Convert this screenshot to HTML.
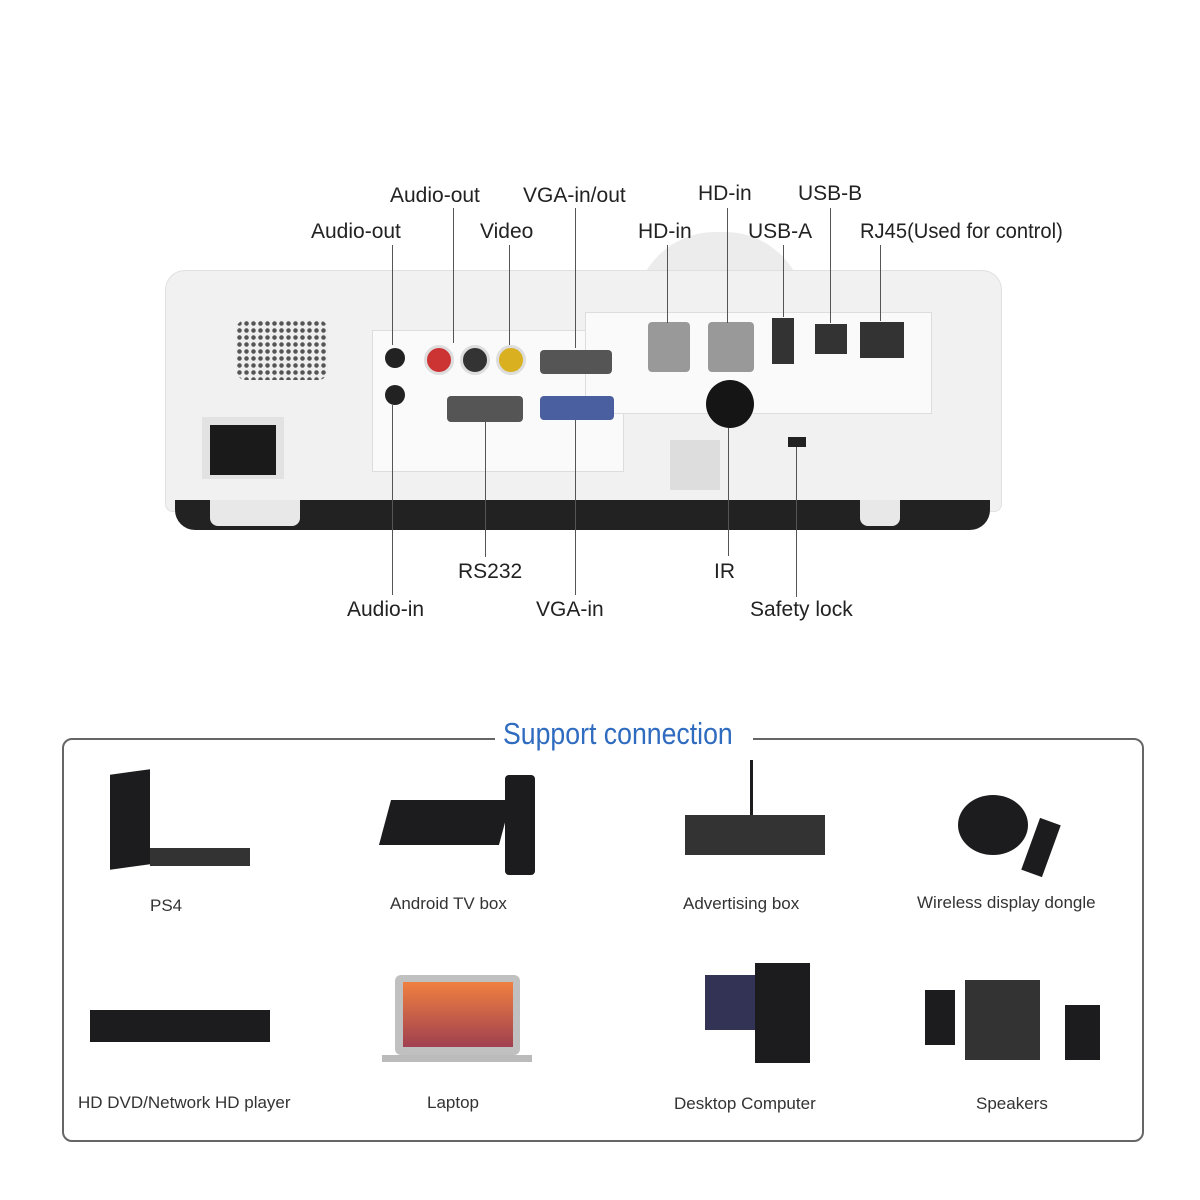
<!DOCTYPE html>
<html><head><meta charset="utf-8"><style>
body{margin:0;width:1200px;height:1200px;background:#fff;position:relative;overflow:hidden;font-family:"Liberation Sans",sans-serif}
.a{position:absolute}
.l{position:absolute;font-size:21px;color:#222;white-space:nowrap}
.s{position:absolute;font-size:17px;color:#333;white-space:nowrap}
.ln{position:absolute;width:1px;background:#555}
.d{position:absolute;background:#1c1c1e}
</style></head><body>
<!-- projector -->
<div class="a" style="left:635px;top:232px;width:170px;height:80px;border-radius:85px 85px 0 0;background:#ececec"></div>
<div class="a" style="left:165px;top:270px;width:835px;height:240px;background:#f1f1f1;border-radius:20px 20px 8px 8px;border:1px solid #e0e0e0"></div>
<div class="a" style="left:175px;top:500px;width:815px;height:30px;background:#222;border-radius:0 0 20px 20px"></div>
<div class="a" style="left:210px;top:500px;width:90px;height:26px;background:#e8e8e8;border-radius:0 0 8px 8px"></div>
<div class="a" style="left:860px;top:500px;width:40px;height:26px;background:#e8e8e8;border-radius:0 0 8px 8px"></div>
<div class="a" style="left:236px;top:320px;width:92px;height:60px;border-radius:10px;background:radial-gradient(circle,#555 2px,#eee 2.5px) 0 0/7px 7px"></div>
<div class="a" style="left:202px;top:417px;width:82px;height:62px;background:#e2e2e2"></div>
<div class="a" style="left:210px;top:425px;width:66px;height:50px;background:#1a1a1a"></div>
<div class="a" style="left:372px;top:330px;width:250px;height:140px;background:#fafafa;border:1px solid #ddd"></div>
<div class="a" style="left:585px;top:312px;width:345px;height:100px;background:#fafafa;border:1px solid #ddd"></div>
<div class="a" style="left:385px;top:348px;width:20px;height:20px;border-radius:50%;background:#222"></div>
<div class="a" style="left:385px;top:385px;width:20px;height:20px;border-radius:50%;background:#222"></div>
<div class="a" style="left:424px;top:345px;width:24px;height:24px;border-radius:50%;background:#c33;border:3px solid #ddd"></div>
<div class="a" style="left:460px;top:345px;width:24px;height:24px;border-radius:50%;background:#333;border:3px solid #ddd"></div>
<div class="a" style="left:496px;top:345px;width:24px;height:24px;border-radius:50%;background:#d8b020;border:3px solid #ddd"></div>
<div class="a" style="left:540px;top:350px;width:72px;height:24px;background:#555;border-radius:4px"></div>
<div class="a" style="left:447px;top:396px;width:76px;height:26px;background:#555;border-radius:4px"></div>
<div class="a" style="left:540px;top:396px;width:74px;height:24px;background:#4a5fa0;border-radius:4px"></div>
<div class="a" style="left:648px;top:322px;width:42px;height:50px;background:#999;border-radius:4px"></div>
<div class="a" style="left:708px;top:322px;width:46px;height:50px;background:#999;border-radius:4px"></div>
<div class="a" style="left:772px;top:318px;width:22px;height:46px;background:#333"></div>
<div class="a" style="left:815px;top:324px;width:32px;height:30px;background:#333"></div>
<div class="a" style="left:860px;top:322px;width:44px;height:36px;background:#333"></div>
<div class="a" style="left:706px;top:380px;width:48px;height:48px;border-radius:50%;background:#151515"></div>
<div class="a" style="left:670px;top:440px;width:50px;height:50px;background:#ddd"></div>
<div class="a" style="left:788px;top:437px;width:18px;height:10px;background:#222"></div>
<!-- labels -->
<div class="l" style="left:390px;top:184px">Audio-out</div>
<div class="l" style="left:523px;top:184px">VGA-in/out</div>
<div class="l" style="left:698px;top:182px">HD-in</div>
<div class="l" style="left:798px;top:182px">USB-B</div>
<div class="l" style="left:311px;top:220px">Audio-out</div>
<div class="l" style="left:480px;top:220px">Video</div>
<div class="l" style="left:638px;top:220px">HD-in</div>
<div class="l" style="left:748px;top:220px">USB-A</div>
<div class="l" style="left:860px;top:220px;transform:scaleX(0.96);transform-origin:left">RJ45(Used for control)</div>
<div class="l" style="left:458px;top:560px">RS232</div>
<div class="l" style="left:714px;top:560px">IR</div>
<div class="l" style="left:347px;top:598px">Audio-in</div>
<div class="l" style="left:536px;top:598px">VGA-in</div>
<div class="l" style="left:750px;top:598px">Safety lock</div>
<div class="ln" style="left:392px;top:245px;height:100px"></div>
<div class="ln" style="left:453px;top:208px;height:135px"></div>
<div class="ln" style="left:509px;top:245px;height:100px"></div>
<div class="ln" style="left:575px;top:208px;height:140px"></div>
<div class="ln" style="left:667px;top:245px;height:78px"></div>
<div class="ln" style="left:727px;top:208px;height:115px"></div>
<div class="ln" style="left:783px;top:245px;height:72px"></div>
<div class="ln" style="left:830px;top:208px;height:115px"></div>
<div class="ln" style="left:880px;top:245px;height:76px"></div>
<div class="ln" style="left:485px;top:422px;height:135px"></div>
<div class="ln" style="left:392px;top:405px;height:190px"></div>
<div class="ln" style="left:575px;top:420px;height:175px"></div>
<div class="ln" style="left:728px;top:428px;height:128px"></div>
<div class="ln" style="left:796px;top:447px;height:150px"></div>
<!-- support box -->
<div class="a" style="left:62px;top:738px;width:1078px;height:400px;border:2px solid #666;border-radius:10px"></div>
<div class="a" style="left:495px;top:715px;width:258px;height:40px;background:#fff"></div>
<div class="a" style="left:503px;top:714px;width:242px;height:40px;color:#2f6bbf;font-size:31px;line-height:40px;white-space:nowrap;transform:scaleX(0.86);transform-origin:left">Support connection</div>
<div class="d" style="left:110px;top:772px;width:40px;height:95px;transform:skewY(-8deg)"></div>
<div class="d" style="left:150px;top:848px;width:100px;height:18px;background:#333"></div>
<div class="d" style="left:385px;top:800px;width:120px;height:45px;transform:skewX(-15deg)"></div>
<div class="d" style="left:505px;top:775px;width:30px;height:100px;border-radius:4px"></div>
<div class="d" style="left:750px;top:760px;width:3px;height:60px"></div>
<div class="d" style="left:685px;top:815px;width:140px;height:40px;background:#333"></div>
<div class="d" style="left:958px;top:795px;width:70px;height:60px;border-radius:50%"></div>
<div class="d" style="left:1030px;top:820px;width:22px;height:55px;transform:rotate(20deg)"></div>
<div class="d" style="left:90px;top:1010px;width:180px;height:32px"></div>
<div class="a" style="left:395px;top:975px;width:125px;height:80px;background:#c0c0c0;border-radius:6px"></div>
<div class="a" style="left:403px;top:982px;width:110px;height:65px;background:linear-gradient(#f08040,#a04050)"></div>
<div class="a" style="left:382px;top:1055px;width:150px;height:7px;background:#bbb"></div>
<div class="d" style="left:705px;top:975px;width:65px;height:55px;background:#335"></div>
<div class="d" style="left:755px;top:963px;width:55px;height:100px"></div>
<div class="d" style="left:925px;top:990px;width:30px;height:55px"></div>
<div class="d" style="left:965px;top:980px;width:75px;height:80px;background:#333"></div>
<div class="d" style="left:1065px;top:1005px;width:35px;height:55px"></div>
<div class="s" style="left:150px;top:896px">PS4</div>
<div class="s" style="left:390px;top:894px">Android TV box</div>
<div class="s" style="left:683px;top:894px">Advertising box</div>
<div class="s" style="left:917px;top:893px">Wireless display dongle</div>
<div class="s" style="left:78px;top:1093px">HD DVD/Network HD player</div>
<div class="s" style="left:427px;top:1093px">Laptop</div>
<div class="s" style="left:674px;top:1094px">Desktop Computer</div>
<div class="s" style="left:976px;top:1094px">Speakers</div>
</body></html>
